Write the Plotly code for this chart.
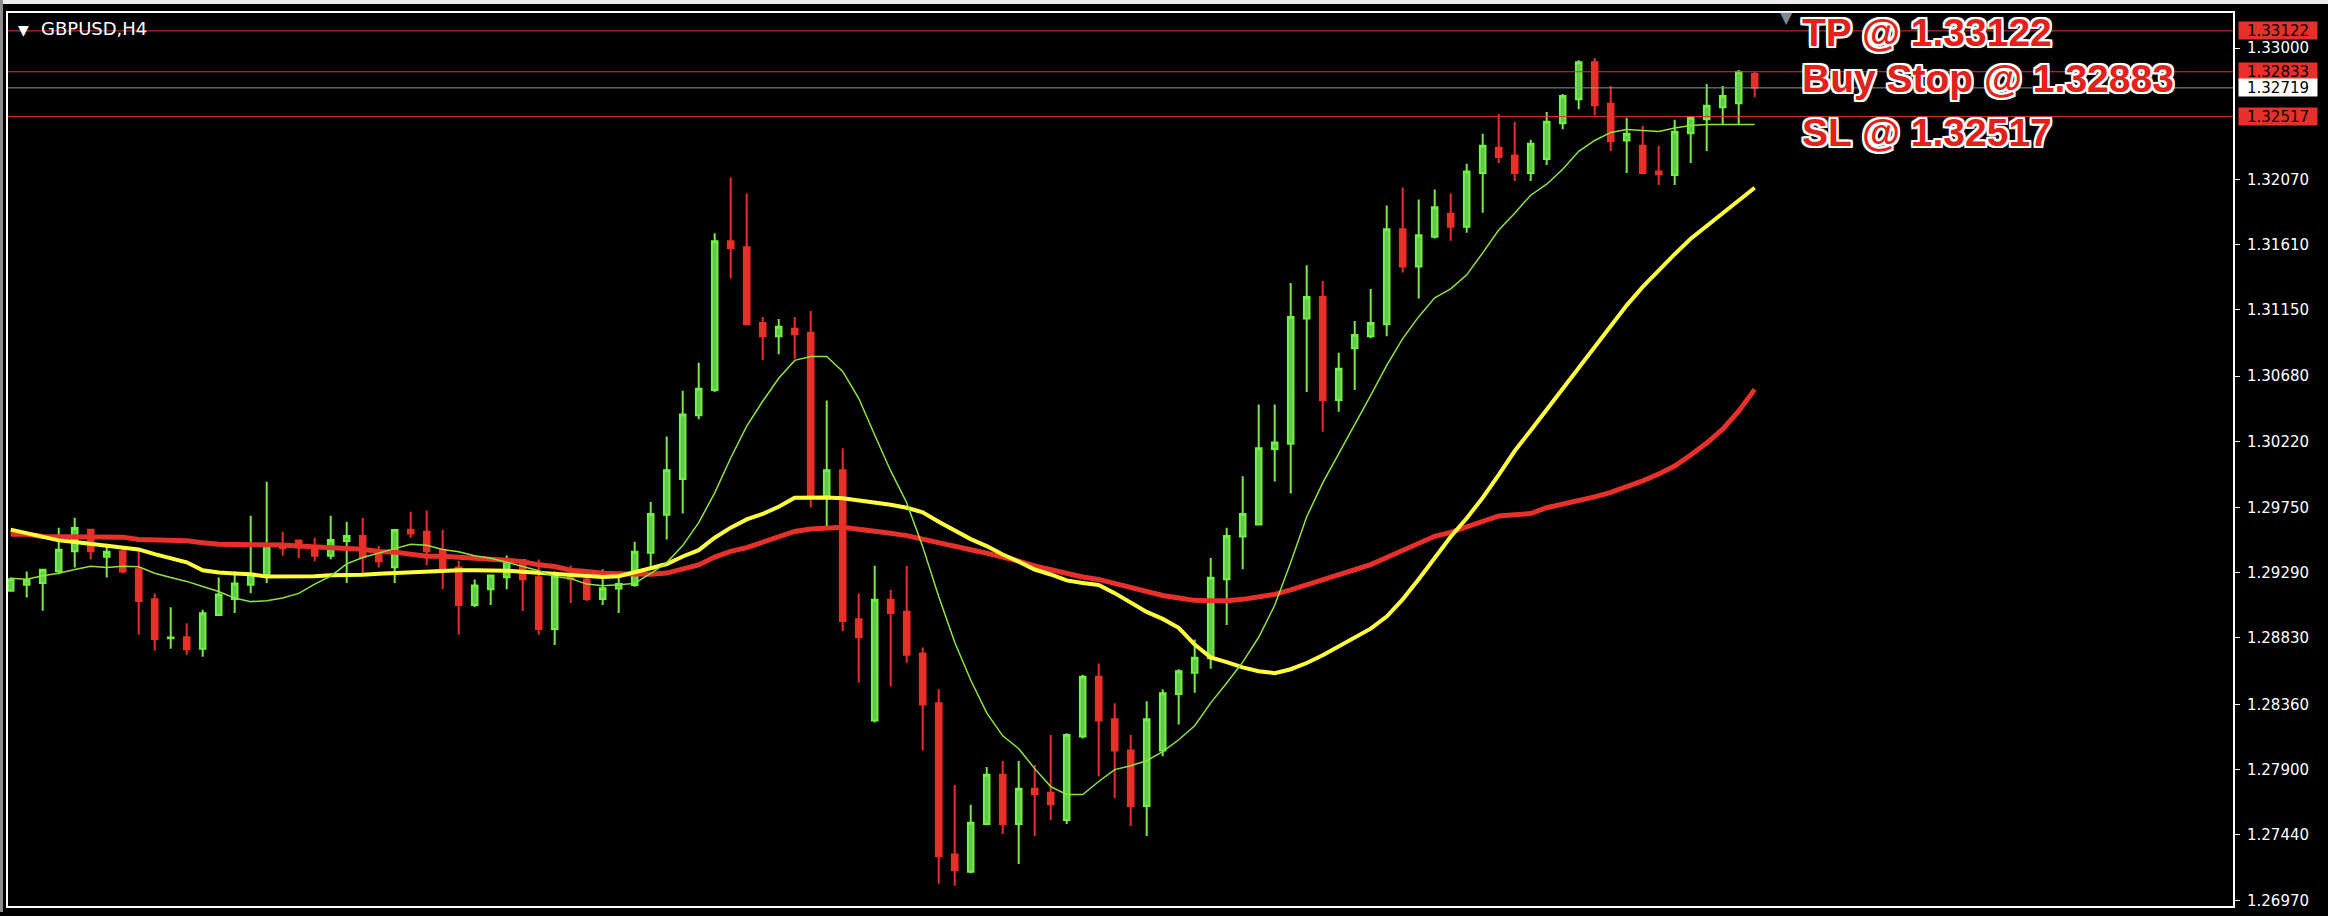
import plotly.graph_objects as go

# ---------------- data ----------------
opens = [1.29163, 1.29205, 1.29217, 1.29301, 1.29442, 1.29595, 1.29403, 1.29442, 1.29315, 1.29102,
         1.28827, 1.28834, 1.28752, 1.28991, 1.29104, 1.29205, 1.29273, 1.29492, 1.29519, 1.29480,
         1.29410, 1.29515, 1.29550, 1.29445, 1.29329, 1.29595, 1.29581, 1.29452, 1.29327, 1.29062,
         1.29174, 1.29259, 1.29381, 1.29259, 1.28893, 1.29273, 1.29243, 1.29104, 1.29179, 1.29203,
         1.29431, 1.29700, 1.29954, 1.30404, 1.30582, 1.31634, 1.31592, 1.31057, 1.30963, 1.31015,
         1.30987, 1.29827, 1.30015, 1.28961, 1.28245, 1.29100, 1.29015, 1.28720, 1.28368, 1.27298,
         1.27175, 1.27513, 1.27861, 1.27513, 1.27762, 1.27734, 1.27541, 1.28133, 1.28555, 1.28255,
         1.28034, 1.27640, 1.28034, 1.28433, 1.28583, 1.28686, 1.29245, 1.29546, 1.29632, 1.30165,
         1.30202, 1.31089, 1.31240, 1.30512, 1.30878, 1.30963, 1.31047, 1.31719, 1.31455, 1.31667,
         1.31829, 1.31737, 1.32117, 1.32296, 1.32240, 1.32117, 1.32216, 1.32469, 1.32638, 1.32901,
         1.32606, 1.32347, 1.32310, 1.32127, 1.32103, 1.32399, 1.32497, 1.32582, 1.32610, 1.32817]

highs = [1.29257, 1.29299, 1.29315, 1.29609, 1.29679, 1.29598, 1.29496, 1.29468, 1.29445, 1.29144,
         1.29046, 1.28933, 1.29029, 1.29257, 1.29299, 1.29693, 1.29933, 1.29581, 1.29522, 1.29538,
         1.29693, 1.29650, 1.29679, 1.29480, 1.29597, 1.29721, 1.29731, 1.29595, 1.29374, 1.29243,
         1.29273, 1.29412, 1.29384, 1.29384, 1.29299, 1.29341, 1.29285, 1.29313, 1.29257, 1.29510,
         1.29790, 1.30254, 1.30578, 1.30775, 1.31691, 1.32085, 1.31972, 1.31099, 1.31085, 1.31099,
         1.31141, 1.30508, 1.30170, 1.29144, 1.29339, 1.29170, 1.29339, 1.28762, 1.28466, 1.27790,
         1.27650, 1.27917, 1.27959, 1.27959, 1.27931, 1.28142, 1.28156, 1.28569, 1.28649, 1.28368,
         1.28142, 1.28382, 1.28466, 1.28607, 1.28818, 1.29394, 1.29609, 1.29973, 1.30480, 1.30480,
         1.31339, 1.31465, 1.31353, 1.30846, 1.31071, 1.31296, 1.31888, 1.32014, 1.31930, 1.32000,
         1.31972, 1.32183, 1.32395, 1.32535, 1.32479, 1.32352, 1.32549, 1.32676, 1.32915, 1.32930,
         1.32732, 1.32507, 1.32451, 1.32310, 1.32493, 1.32513, 1.32747, 1.32732, 1.32845, 1.32831]

lows = [1.29158, 1.29116, 1.29022, 1.29280, 1.29327, 1.29384, 1.29257, 1.29285, 1.28851, 1.28738,
        1.28752, 1.28710, 1.28696, 1.28988, 1.29005, 1.29146, 1.29217, 1.29410, 1.29394, 1.29372,
        1.29386, 1.29217, 1.29287, 1.29327, 1.29217, 1.29538, 1.29343, 1.29174, 1.28851, 1.29048,
        1.29062, 1.29174, 1.29020, 1.28851, 1.28780, 1.29076, 1.29090, 1.29062, 1.29005, 1.29191,
        1.29327, 1.29526, 1.29709, 1.30376, 1.30568, 1.31371, 1.31041, 1.30794, 1.30836, 1.30803,
        1.29752, 1.29611, 1.28879, 1.28513, 1.28231, 1.28485, 1.28653, 1.28034, 1.27091, 1.27077,
        1.27166, 1.27504, 1.27443, 1.27231, 1.27429, 1.27541, 1.27513, 1.28118, 1.27851, 1.27696,
        1.27499, 1.27429, 1.27992, 1.28217, 1.28442, 1.28611, 1.28921, 1.29315, 1.29625, 1.29935,
        1.29850, 1.30568, 1.30287, 1.30428, 1.30582, 1.30949, 1.30963, 1.31413, 1.31230, 1.31653,
        1.31638, 1.31695, 1.31836, 1.32188, 1.32061, 1.32061, 1.32173, 1.32427, 1.32568, 1.32525,
        1.32272, 1.32117, 1.32112, 1.32033, 1.32033, 1.32188, 1.32272, 1.32460, 1.32460, 1.32652]

closes = [1.29245, 1.29238, 1.29311, 1.29452, 1.29607, 1.29442, 1.29438, 1.29299, 1.29090, 1.28822,
          1.28832, 1.28750, 1.29003, 1.29137, 1.29215, 1.29280, 1.29494, 1.29463, 1.29468, 1.29410,
          1.29522, 1.29550, 1.29400, 1.29372, 1.29593, 1.29567, 1.29442, 1.29315, 1.29062, 1.29200,
          1.29271, 1.29381, 1.29245, 1.28893, 1.29269, 1.29245, 1.29104, 1.29181, 1.29210, 1.29438,
          1.29705, 1.30015, 1.30409, 1.30592, 1.31634, 1.31587, 1.31047, 1.30963, 1.31029, 1.30977,
          1.29822, 1.30015, 1.28949, 1.28834, 1.29100, 1.29005, 1.28710, 1.28358, 1.27288, 1.27189,
          1.27523, 1.27861, 1.27513, 1.27762, 1.27724, 1.27654, 1.28142, 1.28555, 1.28245, 1.28034,
          1.27640, 1.28255, 1.28438, 1.28593, 1.28689, 1.29255, 1.29550, 1.29705, 1.30170, 1.30212,
          1.31099, 1.31240, 1.30512, 1.30733, 1.30972, 1.31057, 1.31719, 1.31455, 1.31676, 1.31874,
          1.31737, 1.32127, 1.32310, 1.32230, 1.32117, 1.32324, 1.32479, 1.32662, 1.32901, 1.32596,
          1.32342, 1.32395, 1.32117, 1.32108, 1.32409, 1.32507, 1.32592, 1.32662, 1.32831, 1.32719]

ma_fast = [1.29252, 1.29245, 1.29269, 1.29287, 1.29313, 1.29336, 1.29327, 1.29336, 1.29333, 1.29287,
           1.29257, 1.29229, 1.29193, 1.29158, 1.29111, 1.29086, 1.29093, 1.29111, 1.29144, 1.29210,
           1.29266, 1.29353, 1.29398, 1.29431, 1.29461, 1.29491, 1.29484, 1.29454, 1.29438, 1.29410,
           1.29393, 1.29365, 1.29334, 1.29304, 1.29264, 1.29250, 1.29210, 1.29198, 1.29205, 1.29215,
           1.29285, 1.29362, 1.29482, 1.29644, 1.29855, 1.30102, 1.30327, 1.30503, 1.30665, 1.30792,
           1.30820, 1.30820, 1.30714, 1.30524, 1.30264, 1.30010, 1.29785, 1.29475, 1.29123, 1.28799,
           1.28532, 1.28299, 1.28137, 1.28046, 1.27905, 1.27778, 1.27722, 1.27722, 1.27814, 1.27898,
           1.27926, 1.27961, 1.28025, 1.28109, 1.28208, 1.28370, 1.28511, 1.28658, 1.28834, 1.29060,
           1.29362, 1.29686, 1.29926, 1.30130, 1.30334, 1.30545, 1.30756, 1.30946, 1.31101, 1.31235,
           1.31298, 1.31397, 1.31552, 1.31714, 1.31833, 1.31960, 1.32038, 1.32143, 1.32270, 1.32347,
           1.32404, 1.32425, 1.32418, 1.32411, 1.32435, 1.32453, 1.32460, 1.32460, 1.32460, 1.32460]

ma_mid = [1.29595, 1.29569, 1.29544, 1.29519, 1.29507, 1.29495, 1.29481, 1.29467, 1.29455, 1.29422,
          1.29395, 1.29364, 1.29308, 1.29292, 1.29285, 1.29279, 1.29263, 1.29262, 1.29262, 1.29266,
          1.29273, 1.29274, 1.29276, 1.29284, 1.29289, 1.29299, 1.29305, 1.29307, 1.29308, 1.29308,
          1.29308, 1.29305, 1.29298, 1.29291, 1.29284, 1.29277, 1.29267, 1.29260, 1.29265, 1.29291,
          1.29322, 1.29352, 1.29405, 1.29450, 1.29538, 1.29609, 1.29667, 1.29706, 1.29757, 1.29820,
          1.29824, 1.29822, 1.29817, 1.29802, 1.29789, 1.29771, 1.29750, 1.29718, 1.29651, 1.29591,
          1.29528, 1.29479, 1.29419, 1.29369, 1.29313, 1.29278, 1.29236, 1.29218, 1.29204, 1.29146,
          1.29076, 1.29013, 1.28964, 1.28901, 1.28782, 1.28691, 1.28658, 1.28621, 1.28594, 1.28580,
          1.28608, 1.28652, 1.28707, 1.28772, 1.28832, 1.28895, 1.28980, 1.29102, 1.29244, 1.29394,
          1.29545, 1.29675, 1.29821, 1.29982, 1.30151, 1.30296, 1.30445, 1.30585, 1.30739, 1.30892,
          1.31039, 1.31181, 1.31312, 1.31430, 1.31543, 1.31652, 1.31744, 1.31838, 1.31928, 1.32013]

ma_slow = [1.29562, 1.29562, 1.29546, 1.29545, 1.29544, 1.29544, 1.29543, 1.29542, 1.29526, 1.29525,
           1.29524, 1.29517, 1.29503, 1.29491, 1.29490, 1.29490, 1.29489, 1.29487, 1.29480, 1.29472,
           1.29463, 1.29462, 1.29457, 1.29440, 1.29436, 1.29421, 1.29407, 1.29406, 1.29401, 1.29393,
           1.29387, 1.29379, 1.29369, 1.29346, 1.29334, 1.29308, 1.29299, 1.29286, 1.29283, 1.29280,
           1.29280, 1.29288, 1.29313, 1.29345, 1.29401, 1.29441, 1.29468, 1.29503, 1.29541, 1.29582,
           1.29600, 1.29610, 1.29612, 1.29598, 1.29588, 1.29570, 1.29553, 1.29530, 1.29505, 1.29479,
           1.29453, 1.29429, 1.29405, 1.29373, 1.29338, 1.29310, 1.29280, 1.29260, 1.29243, 1.29215,
           1.29186, 1.29157, 1.29129, 1.29112, 1.29095, 1.29093, 1.29093, 1.29102, 1.29116, 1.29137,
           1.29169, 1.29204, 1.29240, 1.29275, 1.29310, 1.29348, 1.29398, 1.29447, 1.29500, 1.29548,
           1.29576, 1.29613, 1.29658, 1.29692, 1.29700, 1.29709, 1.29750, 1.29774, 1.29802, 1.29827,
           1.29859, 1.29897, 1.29940, 1.29989, 1.30045, 1.30123, 1.30207, 1.30306, 1.30433, 1.30587]

bar_index = list(range(len(opens)))

tick_values = [1.33000, 1.32070, 1.31610, 1.31150, 1.30680, 1.30220, 1.29750,
               1.29290, 1.28830, 1.28360, 1.27900, 1.27440, 1.26970]
tick_labels = [f"{v:.5f}" for v in tick_values]

symbol_title = "GBPUSD,H4"
take_profit = 1.33122
buy_stop = 1.32833
bid_price = 1.32719
stop_loss = 1.32517
order_notes = ["TP @ 1.33122", "Buy Stop @ 1.32883", "SL @ 1.32517"]

# ---------------- layout helpers (pixel geometry) ----------------
W, H = 2328, 916
PX_L, PX_R, PX_T, PX_B = 8, 2233, 13, 910
X_RANGE = [(PX_L - 10.7) / 16.0, (PX_R - 10.7) / 16.0]
Y_RANGE = [1.3334 - 0.0000704 * PX_B, 1.3334 - 0.0000704 * PX_T]


def px_x(px):
    return (px - PX_L) / (PX_R - PX_L)


def px_y(py):
    return (PX_B - py) / (PX_B - PX_T)


RED = "#e8302a"
GREEN_LINE = "#74ee44"
GREEN_FILL = "#62c74d"

fig = go.Figure()

fig.add_trace(go.Candlestick(
    x=bar_index, open=opens, high=highs, low=lows, close=closes,
    increasing=dict(line=dict(color=GREEN_LINE, width=2), fillcolor=GREEN_FILL),
    decreasing=dict(line=dict(color=RED, width=2), fillcolor=RED),
    whiskerwidth=0, showlegend=False, hoverinfo="none",
))

fig.add_trace(go.Scatter(x=bar_index, y=ma_slow, mode="lines",
                         line=dict(color=RED, width=5), showlegend=False, hoverinfo="skip"))
fig.add_trace(go.Scatter(x=bar_index, y=ma_mid, mode="lines",
                         line=dict(color="#ffff3c", width=4), showlegend=False, hoverinfo="skip"))
fig.add_trace(go.Scatter(x=bar_index, y=ma_fast, mode="lines",
                         line=dict(color="#8fe33d", width=1.5), showlegend=False, hoverinfo="skip"))

# order / price lines
for price, col in [(take_profit, RED), (buy_stop, RED), (bid_price, "#8a98a6"), (stop_loss, RED)]:
    fig.add_shape(type="line", xref="paper", x0=0, x1=1, yref="y", y0=price, y1=price,
                  line=dict(color=col, width=1))

# window chrome
fig.add_shape(type="rect", xref="paper", yref="paper", x0=px_x(0), x1=px_x(W),
              y0=px_y(0), y1=px_y(4), fillcolor="#ececec", line=dict(width=0), layer="below")
fig.add_shape(type="rect", xref="paper", yref="paper", x0=px_x(0), x1=px_x(3),
              y0=px_y(0), y1=px_y(H), fillcolor="#8c8c8c", line=dict(width=0), layer="below")

annotations = []
# price tags on the right scale
for price, bg, fg in [(take_profit, RED, "black"), (buy_stop, RED, "black"),
                      (bid_price, "white", "black"), (stop_loss, RED, "black")]:
    annotations.append(dict(xref="paper", yref="y", x=px_x(2238), y=price, xanchor="left",
                            yanchor="middle", text=f"{price:.5f}", showarrow=False,
                            bgcolor=bg, width=76, height=15, borderpad=1, align="center",
                            font=dict(family="DejaVu Sans", size=15, color=fg)))

# symbol title
annotations.append(dict(xref="paper", yref="paper", x=px_x(16), y=px_y(30), xanchor="left",
                        yanchor="middle", text="▼", showarrow=False,
                        font=dict(family="DejaVu Sans", size=14, color="white")))
annotations.append(dict(xref="paper", yref="paper", x=px_x(39), y=px_y(29), xanchor="left",
                        yanchor="middle", text=symbol_title, showarrow=False,
                        font=dict(family="DejaVu Sans", size=18, color="white")))
# chart shift marker
annotations.append(dict(xref="paper", yref="paper", x=px_x(1786), y=px_y(18), xanchor="center",
                        yanchor="middle", text="▼", showarrow=False,
                        font=dict(family="DejaVu Sans", size=16, color="#7d8895")))

outline = ("2px 0 0 #fff, -2px 0 0 #fff, 0 2px 0 #fff, 0 -2px 0 #fff, "
           "2px 2px 0 #fff, -2px -2px 0 #fff, 2px -2px 0 #fff, -2px 2px 0 #fff, 0 0 4px #999")
for note, yc in zip(order_notes, [33, 79, 133]):
    annotations.append(dict(xref="paper", yref="paper", x=px_x(1800), y=px_y(yc), xanchor="left",
                            yanchor="middle", text=note, showarrow=False,
                            font=dict(family="Liberation Sans", size=39, color="#e4201a",
                                      weight="bold", shadow=outline)))

fig.update_layout(
    width=W, height=H,
    margin=dict(l=PX_L, r=W - PX_R, t=PX_T, b=H - PX_B, pad=0),
    paper_bgcolor="black", plot_bgcolor="black",
    showlegend=False, hovermode=False, boxgap=0.5,
    annotations=annotations,
    xaxis=dict(range=X_RANGE, showgrid=False, zeroline=False, showticklabels=False, ticks="",
               showline=True, mirror=True, linecolor="white", linewidth=2,
               rangeslider=dict(visible=False), fixedrange=True),
    yaxis=dict(range=Y_RANGE, side="right", showgrid=False, zeroline=False,
               tickvals=tick_values, ticktext=tick_labels, ticks="outside", ticklen=5,
               tickwidth=1, tickcolor="white", ticklabelstandoff=4,
               tickfont=dict(family="DejaVu Sans", size=15, color="white"),
               showline=True, mirror=True, linecolor="white", linewidth=2, fixedrange=True),
)

fig.write_html("out.html", config={"displayModeBar": False},
               post_script="document.body.style.margin='0';document.body.style.overflow='hidden';")
